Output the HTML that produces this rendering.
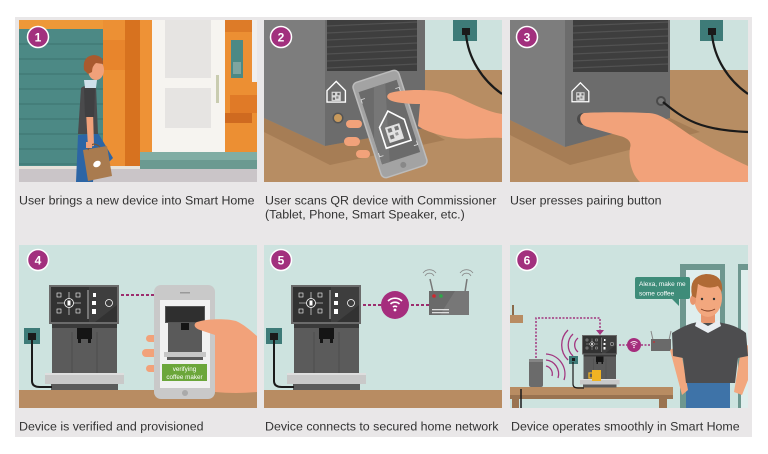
<!DOCTYPE html>
<html><head><meta charset="utf-8">
<style>
html,body{margin:0;padding:0;background:#fff;width:768px;height:454px;overflow:hidden}
svg{display:block}
text{font-family:"Liberation Sans",sans-serif}
</style></head>
<body>
<svg width="768" height="454" viewBox="0 0 768 454" xmlns="http://www.w3.org/2000/svg">
<defs>
  <g id="cm">
    <rect x="4" y="0" width="70" height="39" fill="#6b6b6b"/>
    <rect x="6" y="2" width="66" height="35" fill="#323232"/>
    <polygon points="44,2 72,2 72,20 50,37 44,37" fill="#3e3e3e"/>
    <line x1="43" y1="5" x2="43" y2="34" stroke="#ddd" stroke-width="0.8"/>
    <line x1="12" y1="18" x2="36" y2="18" stroke="#fff" stroke-width="0.6"/>
    <line x1="24" y1="7" x2="24" y2="30" stroke="#fff" stroke-width="0.6"/>
    <circle cx="24" cy="18" r="4.5" fill="#323232" stroke="#fff" stroke-width="0.8"/>
    <rect x="22.5" y="15.5" width="3" height="5" fill="#fff"/>
    <rect x="12" y="8" width="4" height="4" fill="none" stroke="#fff" stroke-width="0.6"/>
    <rect x="31" y="8" width="4" height="4" fill="none" stroke="#fff" stroke-width="0.6"/>
    <rect x="12" y="24" width="4" height="4" fill="none" stroke="#fff" stroke-width="0.6"/>
    <rect x="31" y="24" width="4" height="4" fill="none" stroke="#fff" stroke-width="0.6"/>
    <rect x="48" y="8" width="3" height="4" fill="#fff"/>
    <rect x="47" y="16" width="4" height="4" fill="#fff"/>
    <rect x="47" y="24" width="4" height="5" fill="#fff"/>
    <circle cx="64" cy="18" r="3.5" fill="none" stroke="#fff" stroke-width="0.8"/>
    <rect x="7" y="39" width="65" height="49" fill="#5b5b5b"/>
    <rect x="7" y="39" width="65" height="4" fill="#3a3a3a"/>
    <line x1="27" y1="47" x2="27" y2="88" stroke="#4c4c4c" stroke-width="1"/>
    <line x1="52" y1="47" x2="52" y2="88" stroke="#4c4c4c" stroke-width="1"/>
    <rect x="32" y="43" width="15" height="11" fill="#151515"/>
    <rect x="33" y="54" width="3" height="4" fill="#151515"/>
    <rect x="43" y="54" width="3" height="4" fill="#151515"/>
    <rect x="0" y="88" width="79" height="11" fill="#c9c9c9"/>
    <rect x="0" y="88" width="79" height="2" fill="#dedede"/>
    <rect x="6" y="99" width="67" height="6" fill="#5b5b5b"/>
  </g>
  <g id="wifi">
    <path d="M-7,-2 A10,10 0 0 1 7,-2" fill="none" stroke="#fff" stroke-width="1.6"/>
    <path d="M-4.5,1 A6.5,6.5 0 0 1 4.5,1" fill="none" stroke="#fff" stroke-width="1.6"/>
    <path d="M-2,4 A3,3 0 0 1 2,4" fill="none" stroke="#fff" stroke-width="1.6"/>
    <circle cx="0" cy="7" r="1.4" fill="#fff"/>
  </g>
  <g id="qrhouse">
    <path d="M0,14 V4 L8,-4 L16,4 V14 Z" fill="none" stroke="#fff" stroke-width="1.2"/>
    <rect x="4" y="5" width="8" height="8" fill="#d8d8d8"/>
    <rect x="5" y="6" width="2" height="2" fill="#666"/><rect x="9" y="6" width="2" height="2" fill="#666"/><rect x="5" y="10" width="2" height="2" fill="#666"/><rect x="8" y="9" width="2" height="2" fill="#888"/>
  </g>
</defs>

<!-- card -->
<rect x="15" y="17" width="737" height="420" fill="#e9e7e8"/>

<!-- ============ PANEL 1 ============ -->
<svg x="19" y="20" width="238" height="162" viewBox="19 20 238 162">
  <rect x="19" y="20" width="238" height="162" fill="#eb8d32"/>
  <rect x="19" y="20" width="90" height="9" fill="#ee9838"/>
  <rect x="19" y="29" width="84" height="140" fill="#4c8985"/>
  <g stroke="#3c7470" stroke-width="1">
    <line x1="19" y1="44" x2="103" y2="44"/><line x1="19" y1="59" x2="103" y2="59"/>
    <line x1="19" y1="74" x2="103" y2="74"/><line x1="19" y1="89" x2="103" y2="89"/>
    <line x1="19" y1="104" x2="103" y2="104"/><line x1="19" y1="119" x2="103" y2="119"/>
    <line x1="19" y1="134" x2="103" y2="134"/><line x1="19" y1="149" x2="103" y2="149"/>
    <line x1="19" y1="164" x2="103" y2="164"/>
  </g>
  <rect x="103" y="20" width="22" height="149" fill="#ec9034"/>
  <rect x="103" y="40" width="22" height="30" fill="#e8852c"/>
  <rect x="125" y="20" width="15" height="149" fill="#d7721f"/>
  <rect x="140" y="20" width="12" height="149" fill="#ee9236"/>
  <rect x="152" y="20" width="73" height="132" fill="#f6f4f0"/>
  <rect x="165" y="20" width="46" height="58" fill="#e6e4e2"/>
  <rect x="165" y="88" width="46" height="40" fill="#e6e4e2"/>
  <rect x="216" y="75" width="3" height="28" fill="#c9ccb0"/>
  <rect x="225" y="20" width="32" height="132" fill="#ec8f33"/>
  <rect x="225" y="20" width="27" height="12" fill="#dd7b28"/>
  <rect x="230" y="95" width="27" height="18" fill="#e07a27"/>
  <rect x="225" y="113" width="27" height="10" fill="#cf6a20"/>
  <rect x="252" y="20" width="5" height="62" fill="#f0eeec"/>
  <rect x="231" y="40" width="12" height="38" fill="#4c8985"/>
  <rect x="233" y="62" width="8" height="12" fill="#7ea5a0"/>
  <rect x="140" y="152" width="117" height="8" fill="#80ada4"/>
  <rect x="140" y="160" width="117" height="9" fill="#6b9a91"/>
  <rect x="19" y="166" width="121" height="3" fill="#e7e2da"/>
  <rect x="19" y="169" width="238" height="13" fill="#cac5c8"/>
  <!-- man -->
  <path d="M78,135 L98,133 L113,158 L106,165 L96,150 L93,182 L76,182 Z" fill="#2c65a5"/>
  <path d="M81,88 Q88,83 96,86 L98,134 L78,134 Z" fill="#4a4a4c"/>
  <path d="M86,112 L93,112 L94,146 L88,147 Z" fill="#f0a17a"/>
  <path d="M84,88 L95,88 L94,117 L85,117 Z" fill="#3f3f41"/>
  <polygon points="84,80 97,80 96,88 85,88" fill="#cfe0ea"/>
  <ellipse cx="96" cy="70" rx="8" ry="10" fill="#f0a17a"/>
  <path d="M84,70 Q82,56 94,55 Q104,56 103,64 L96,63 Q92,66 92,72 L88,74 Z" fill="#a95a2e"/>
  <polygon points="83,150 107,146 112,176 88,181" fill="#a97b4f"/>
  <path d="M88,150 Q92,140 100,147" fill="none" stroke="#7a5535" stroke-width="1.2"/>
  <ellipse cx="97" cy="164" rx="4" ry="3" fill="#fff" transform="rotate(-30 97 164)"/>
  <rect x="86" y="142" width="6" height="6" fill="#f0a17a"/>
</svg>

<!-- ============ PANEL 2 ============ -->
<svg x="264" y="20" width="238" height="162" viewBox="264 20 238 162">
  <rect x="264" y="20" width="238" height="162" fill="#cde2de"/>
  <rect x="264" y="70" width="238" height="112" fill="#b78d63"/>
  <polygon points="264,118 325,146 425,128 445,140 330,165 264,132" fill="#a67d55"/>
  <polygon points="264,20 325,20 325,146 264,118" fill="#7d7d7d"/>
  <polygon points="325,20 425,20 425,128 325,146" fill="#6c6c6c"/>
  <rect x="327" y="20" width="90" height="51" fill="#3e3e3e"/>
  <g stroke="#525252" stroke-width="1.2">
    <line x1="327" y1="26" x2="417" y2="22"/><line x1="327" y1="33" x2="417" y2="29"/>
    <line x1="327" y1="40" x2="417" y2="36"/><line x1="327" y1="47" x2="417" y2="43"/>
    <line x1="327" y1="54" x2="417" y2="50"/><line x1="327" y1="61" x2="417" y2="57"/>
    <line x1="327" y1="68" x2="417" y2="64"/>
  </g>
  <use href="#qrhouse" transform="translate(327,86) scale(1.15)"/>
  <circle cx="338" cy="118" r="5.5" fill="#555"/>
  <circle cx="338" cy="118" r="4" fill="#c99a5c"/>
  <rect x="453" y="20" width="24" height="21" fill="#3e7b78"/>
  <rect x="462" y="28" width="8" height="7" fill="#1a1a1a"/>
  <path d="M466,34 C468,58 482,80 502,94" fill="none" stroke="#1a1a1a" stroke-width="2.2"/>
  <path d="M490,132 L502,130" fill="none" stroke="#1a1a1a" stroke-width="2"/>
  <rect x="346" y="120" width="16" height="8" rx="4" fill="#f2a27a"/>
  <rect x="344" y="137" width="16" height="9" rx="4.5" fill="#f2a27a"/>
  <rect x="356" y="150" width="14" height="8" rx="4" fill="#f2a27a"/>
  <g transform="translate(390,124) rotate(-18)">
    <rect x="-24" y="-50" width="48" height="100" rx="5" fill="#a3a3a3" stroke="#bcbcbc" stroke-width="1.5"/>
    <rect x="-20" y="-40" width="40" height="76" fill="#6b6b6b"/>
    <polygon points="-4,-40 8,-40 -12,36 -20,36 -20,10" fill="#777"/>
    <path d="M-20,-28 v-4 h4 M20,-28 v-4 h-4 M-20,24 v4 h4 M20,24 v4 h-4" fill="none" stroke="#ddd" stroke-width="0.8"/>
    <path d="M-11,22 V0 L2,-13 L15,0 V22 Z" fill="none" stroke="#fff" stroke-width="1.6"/>
    <rect x="-6" y="2" width="15" height="16" fill="#e2e2e2"/>
    <rect x="-4" y="4" width="4" height="4" fill="#777"/><rect x="3" y="4" width="4" height="4" fill="#777"/>
    <rect x="-4" y="11" width="4" height="4" fill="#777"/><rect x="2" y="10" width="3" height="3" fill="#999"/>
    <circle cx="0" cy="43" r="3" fill="#888"/>
  </g>
  <path d="M390,93 C402,89 440,88 455,96 C470,103 488,112 502,114 L502,138 C485,137 470,140 455,138 C440,136 425,131 418,126 L420,104 C410,104 398,103 392,101 C386,99 386,95 390,93 Z" fill="#f2a27a"/>
</svg>

<!-- ============ PANEL 3 ============ -->
<svg x="510" y="20" width="238" height="162" viewBox="510 20 238 162">
  <rect x="510" y="20" width="238" height="162" fill="#cde2de"/>
  <rect x="510" y="70" width="238" height="112" fill="#b78d63"/>
  <polygon points="510,120 565,147 670,118 700,132 570,165 510,135" fill="#a67d55"/>
  <polygon points="510,20 565,20 565,147 510,120" fill="#7d7d7d"/>
  <polygon points="565,20 670,20 670,118 565,147" fill="#6c6c6c"/>
  <rect x="573" y="20" width="95" height="52" fill="#3e3e3e"/>
  <g stroke="#525252" stroke-width="1.2">
    <line x1="573" y1="26" x2="668" y2="22"/><line x1="573" y1="33" x2="668" y2="29"/>
    <line x1="573" y1="40" x2="668" y2="36"/><line x1="573" y1="47" x2="668" y2="43"/>
    <line x1="573" y1="54" x2="668" y2="50"/><line x1="573" y1="61" x2="668" y2="57"/>
    <line x1="573" y1="68" x2="668" y2="64"/>
  </g>
  <use href="#qrhouse" transform="translate(572,87) scale(1.05)"/>
  <circle cx="583" cy="119" r="6" fill="#4a4a4a"/>
  <circle cx="661" cy="101" r="5" fill="#4a4a4a"/>
  <circle cx="661" cy="101" r="3" fill="#777"/>
  <path d="M663,102 C685,120 700,130 748,132" fill="none" stroke="#1a1a1a" stroke-width="2.2"/>
  <rect x="700" y="20" width="23" height="21" fill="#3e7b78"/>
  <rect x="708" y="28" width="8" height="7" fill="#1a1a1a"/>
  <path d="M712,34 C714,58 728,80 748,94" fill="none" stroke="#1a1a1a" stroke-width="2.2"/>
  <path d="M584,113 C600,112 630,112 647,113 C660,112 675,125 690,135 C710,148 735,160 748,166 L748,182 L640,182 C632,175 628,160 630,148 C632,142 628,138 620,136 L588,127 C579,125 578,115 584,113 Z" fill="#f2a27a"/>
</svg>

<!-- ============ PANEL 4 ============ -->
<svg x="19" y="245" width="238" height="163" viewBox="19 245 238 163">
  <rect x="19" y="245" width="238" height="163" fill="#cde3df"/>
  <rect x="19" y="390" width="238" height="18" fill="#b88c62"/>
  <use href="#cm" transform="translate(45,285)"/>
  <rect x="24" y="328" width="16" height="16" fill="#3e7b78"/>
  <rect x="28" y="333" width="8" height="7" fill="#1a1a1a"/>
  <path d="M32,340 V381 Q32,387 40,387 H52" fill="none" stroke="#1a1a1a" stroke-width="2"/>
  <line x1="121" y1="295" x2="154" y2="295" stroke="#9c2d6e" stroke-width="2" stroke-dasharray="3 2"/>
  <rect x="146" y="335" width="12" height="7" rx="3.5" fill="#f2a27a"/>
  <rect x="142" y="349" width="16" height="8" rx="4" fill="#f2a27a"/>
  <rect x="146" y="365" width="12" height="7" rx="3.5" fill="#f2a27a"/>
  <rect x="154" y="285" width="61" height="114" rx="7" fill="#c9c9c9"/>
  <rect x="180" y="292" width="10" height="1.5" fill="#999"/>
  <rect x="160" y="300" width="50" height="88" fill="#f1f1f1"/>
  <rect x="165" y="306" width="40" height="17" fill="#555"/>
  <rect x="166" y="307" width="38" height="15" fill="#2f2f2f"/>
  <rect x="168" y="323" width="34" height="29" fill="#5a5a5a"/>
  <rect x="181" y="323" width="8" height="7" fill="#151515"/>
  <rect x="164" y="352" width="42" height="5" fill="#c6c6c6"/>
  <rect x="167" y="357" width="36" height="3" fill="#5a5a5a"/>
  <rect x="162" y="364" width="45" height="17" fill="#6ba63a"/>
  <text x="184.5" y="371" font-size="6.3" fill="#fff" text-anchor="middle">verifying</text>
  <text x="184.5" y="379" font-size="6.3" fill="#fff" text-anchor="middle">coffee maker</text>
  <circle cx="185" cy="393" r="3" fill="#aaa"/>
  <path d="M197,322 C205,319 225,318 236,321 C245,325 252,332 257,336 L257,392 Q236,394 215,392 L215,335 L200,330 C194,328 193,324 197,322 Z" fill="#f2a27a"/>
</svg>

<!-- ============ PANEL 5 ============ -->
<svg x="264" y="245" width="238" height="163" viewBox="264 245 238 163">
  <rect x="264" y="245" width="238" height="163" fill="#cde3df"/>
  <rect x="264" y="390" width="238" height="18" fill="#b88c62"/>
  <use href="#cm" transform="translate(287,285)"/>
  <rect x="266" y="328" width="16" height="16" fill="#3e7b78"/>
  <rect x="270" y="333" width="8" height="7" fill="#1a1a1a"/>
  <path d="M274,340 V381 Q274,387 282,387 H294" fill="none" stroke="#1a1a1a" stroke-width="2"/>
  <line x1="363" y1="305" x2="381" y2="305" stroke="#9c2d6e" stroke-width="2" stroke-dasharray="3 2"/>
  <line x1="411" y1="305" x2="430" y2="305" stroke="#9c2d6e" stroke-width="2" stroke-dasharray="3 2"/>
  <circle cx="395" cy="305" r="14" fill="#a52d7d"/>
  <use href="#wifi" transform="translate(395,303)"/>
  <line x1="433" y1="292" x2="430" y2="279" stroke="#777" stroke-width="1.5"/>
  <line x1="465" y1="292" x2="467" y2="279" stroke="#777" stroke-width="1.5"/>
  <path d="M425,276 A5,5 0 0 1 434,276 M423,273 A8,8 0 0 1 436,273" fill="none" stroke="#888" stroke-width="0.8"/>
  <path d="M462,276 A5,5 0 0 1 471,276 M460,273 A8,8 0 0 1 473,273" fill="none" stroke="#888" stroke-width="0.8"/>
  <rect x="429" y="291" width="40" height="24" fill="#6a6a6a"/>
  <polygon points="455,291 469,291 469,315 440,315" fill="#777"/>
  <circle cx="434" cy="296" r="1.8" fill="#d0282e"/>
  <circle cx="441" cy="296" r="1.8" fill="#2ea84a"/>
  <rect x="432" y="309" width="17" height="1.3" fill="#ddd"/>
  <rect x="432" y="312" width="17" height="1.3" fill="#ddd"/>
</svg>

<!-- ============ PANEL 6 ============ -->
<svg x="510" y="245" width="238" height="163" viewBox="510 245 238 163">
  <rect x="510" y="245" width="238" height="163" fill="#cde3df"/>
  <rect x="680" y="264" width="45" height="144" fill="#6e978f"/>
  <rect x="686" y="270" width="34" height="138" fill="#dfeeed"/>
  <rect x="738" y="264" width="10" height="144" fill="#6e978f"/>
  <rect x="741" y="270" width="7" height="138" fill="#dfeeed"/>
  <rect x="510" y="315" width="13" height="8" fill="#b88c62"/>
  <rect x="512" y="305" width="2" height="10" fill="#8a6a4a"/>
  <rect x="510" y="387" width="163" height="9" fill="#b88c62"/>
  <rect x="510" y="395" width="163" height="4" fill="#9a7350"/>
  <rect x="512" y="399" width="7" height="9" fill="#9a7350"/>
  <rect x="659" y="399" width="8" height="9" fill="#9a7350"/>
  <line x1="521" y1="389" x2="521" y2="408" stroke="#1a1a1a" stroke-width="1.5"/>
  <path d="M536,358 V318 H600 V331" fill="none" stroke="#a2357f" stroke-width="1.5" stroke-dasharray="2 1.5"/>
  <polygon points="596,330 604,330 600,335" fill="#a2357f"/>
  <rect x="529" y="359" width="14" height="28" rx="2" fill="#6b6b6b"/>
  <rect x="529" y="359" width="14" height="3" fill="#858585"/>
  <g fill="none" stroke="#a2357f" stroke-width="1.3">
    <path d="M546,366 A8,8 0 0 1 552,376"/>
    <path d="M546,360 A14,14 0 0 1 558,378"/>
    <path d="M546,354 A20,20 0 0 1 564,380"/>
    <path d="M578,338 A9,9 0 0 0 578,352"/>
    <path d="M573,334 A15,15 0 0 0 573,356"/>
    <path d="M568,330 A21,21 0 0 0 568,360"/>
  </g>
  <rect x="569" y="356" width="9" height="8" fill="#3e7b78"/>
  <rect x="572" y="358" width="3" height="3" fill="#1a1a1a"/>
  <path d="M573,362 V384 Q573,388 578,388 H584" fill="none" stroke="#1a1a1a" stroke-width="1.2"/>
  <use href="#cm" transform="translate(580,335) scale(0.5)"/>
  <rect x="592" y="370" width="9" height="11" fill="#f0b323"/>
  <path d="M592,373 h-3 v5 h3" fill="none" stroke="#f0b323" stroke-width="1.3"/>
  <line x1="619" y1="345" x2="627" y2="345" stroke="#a2357f" stroke-width="1.5" stroke-dasharray="2 1.5"/>
  <line x1="641" y1="345" x2="651" y2="345" stroke="#a2357f" stroke-width="1.5" stroke-dasharray="2 1.5"/>
  <circle cx="634" cy="345" r="7" fill="#a52d7d"/>
  <use href="#wifi" transform="translate(634,344) scale(0.5)"/>
  <line x1="653" y1="340" x2="651" y2="331" stroke="#888" stroke-width="1"/>
  <line x1="669" y1="340" x2="671" y2="331" stroke="#888" stroke-width="1"/>
  <rect x="651" y="339" width="20" height="12" fill="#6a6a6a"/>
  <circle cx="654" cy="342" r="0.9" fill="#d0282e"/>
  <rect x="635" y="277" width="55" height="22" rx="2" fill="#3e8c79"/>
  <polygon points="671,298 679,298 679,306" fill="#3e8c79"/>
  <text x="639" y="286" font-size="6.5" fill="#fff">Alexa, make me</text>
  <text x="639" y="295.5" font-size="6.5" fill="#fff">some coffee</text>
  <!-- man -->
  <rect x="686" y="381" width="44" height="27" fill="#3e73a8"/>
  <path d="M670,350 L680,345 L688,390 L682,395 Z" fill="#f2a77e"/>
  <path d="M748,345 L741,350 L734,392 L742,395 L748,380 Z" fill="#f2a77e"/>
  <path d="M672,333 Q690,322 700,322 L716,322 Q735,324 746,333 L748,356 L738,358 L735,383 L686,383 L683,358 L673,356 Z" fill="#4d4d4f"/>
  <rect x="701" y="310" width="14" height="13" fill="#e8966e"/>
  <polygon points="697,320 708,326 719,320 721,326 708,333 695,326" fill="#e9eef2"/>
  <ellipse cx="708" cy="298" rx="14" ry="19" fill="#f2a77e"/>
  <ellipse cx="693" cy="300" rx="3" ry="5" fill="#e8966e"/>
  <path d="M692,296 Q688,276 706,274 Q724,274 722,292 L718,286 Q708,290 698,284 L696,298 Z" fill="#b06a35"/>
  <path d="M701,309 Q708,313 715,309" fill="none" stroke="#7a3a20" stroke-width="1"/>
  <circle cx="702" cy="299" r="1.2" fill="#333"/><circle cx="714" cy="299" r="1.2" fill="#333"/>
</svg>

<!-- badges -->
<g font-family="Liberation Sans, sans-serif" font-weight="bold" font-size="12" fill="#fff" text-anchor="middle">
  <circle cx="38" cy="37" r="10.5" fill="#a2307e" stroke="#fff" stroke-width="1.5"/><text x="38" y="41.5">1</text>
  <circle cx="281" cy="37" r="10.5" fill="#a2307e" stroke="#fff" stroke-width="1.5"/><text x="281" y="41.5">2</text>
  <circle cx="527" cy="37" r="10.5" fill="#a2307e" stroke="#fff" stroke-width="1.5"/><text x="527" y="41.5">3</text>
  <circle cx="38" cy="260" r="10.5" fill="#a2307e" stroke="#fff" stroke-width="1.5"/><text x="38" y="264.5">4</text>
  <circle cx="281" cy="260" r="10.5" fill="#a2307e" stroke="#fff" stroke-width="1.5"/><text x="281" y="264.5">5</text>
  <circle cx="527" cy="260" r="10.5" fill="#a2307e" stroke="#fff" stroke-width="1.5"/><text x="527" y="264.5">6</text>
</g>

<!-- captions -->
<g font-size="12.4" fill="#333">
  <text x="19" y="204.5">User brings a new device into Smart Home</text>
  <text x="265" y="204.5">User scans QR device with Commissioner</text>
  <text x="265" y="218.5">(Tablet, Phone, Smart Speaker, etc.)</text>
  <text x="510" y="204.5">User presses pairing button</text>
  <text x="19" y="430.5">Device is verified and provisioned</text>
  <text x="265" y="430.5">Device connects to secured home network</text>
  <text x="511" y="430.5">Device operates smoothly in Smart Home</text>
</g>
</svg>
</body></html>
